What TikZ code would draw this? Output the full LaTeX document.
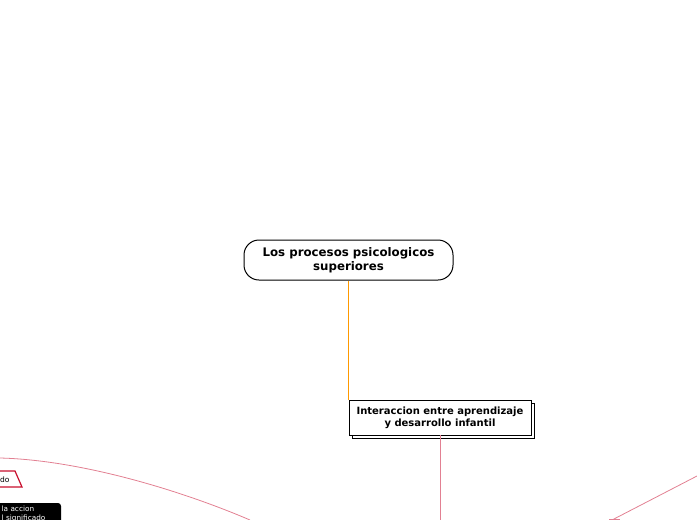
\documentclass[tikz,border=0pt]{standalone}
\usepackage{fontspec}
\setmainfont{DejaVu Sans}
\usetikzlibrary{positioning,shadows}

\definecolor{orangeline}{RGB}{255,153,0}
\definecolor{pinkline}{RGB}{226,128,146}
\definecolor{redframe}{RGB}{200,16,46}

\begin{document}
\begin{tikzpicture}[x=1pt,y=-1pt]
\tikzstyle{every node}+=[inner sep=0pt]
\tikzstyle{rootbox}=[draw,line width=1pt,rounded corners=15pt,fill=white,minimum width=209pt,minimum height=40pt,align=center,font=\bfseries\fontsize{11.8}{13.5}\selectfont]
\tikzstyle{topicbox}=[draw,line width=0.8pt,fill=white,minimum width=182pt,minimum height=35pt,align=center,font=\bfseries\fontsize{10}{12}\selectfont,copy shadow={shadow xshift=3pt,shadow yshift=-3pt,draw,fill=white,line width=0.8pt}]
\tikzstyle{pinklink}=[pinkline,line width=0.8pt]
\useasboundingbox (0,0) rectangle (697,520);
% main topic and its child
\node [rootbox] (root) at (348.5,260) {Los procesos psicologicos\\superiores};
\node [topicbox] (inter) at (440,417.5) {Interaccion entre aprendizaje\\y desarrollo infantil};
\draw [orangeline,line width=1.4pt] (root.south) -- (root.south |- inter.north);
% branches running off the page
\coordinate (below) at (inter.south |- 0,530);
\coordinate (leftend) at (0,458);
\coordinate (leftfoot) at (250,520);
\coordinate (rightend) at (697,476);
\coordinate (rightfoot) at (612,520);
\draw [pinklink] (inter.south) -- (below);
\draw [pinklink] (leftend) .. controls (80,460) and (180,490) .. (leftfoot);
\draw [pinklink] (rightend) -- (rightfoot);
\draw [pinklink] (609,519.6) -- (620,519.6);
% cut off nodes on the left
\draw [redframe,line width=1.2pt,fill=white] (-5,471) -- (15,471) -- (22,487) -- (-5,487) -- cycle;
\node [anchor=west,font=\fontsize{7.5}{9}\selectfont] (endo) at (0,479.5) {do};
\fill [black,rounded corners=3pt] (-10,503) rectangle (61,530);
\node [anchor=north west,align=left,text=white,font=\fontsize{7.3}{8.5}\selectfont] (accion) at (1.5,506) {la accion\\l significado};
\end{tikzpicture}
\end{document}
